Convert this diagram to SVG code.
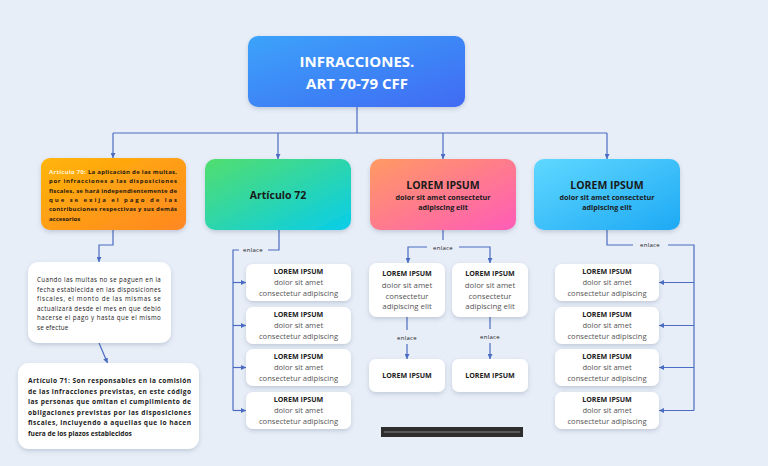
<svg xmlns="http://www.w3.org/2000/svg" width="768" height="466" viewBox="0 0 768 466">
<defs>
<linearGradient id="gTitle" x1="0" y1="0" x2="1" y2="1"><stop offset="0" stop-color="#3ba3fa"/><stop offset="1" stop-color="#406af3"/></linearGradient>
<linearGradient id="gOrange" x1="0" y1="0" x2="1" y2="1"><stop offset="0" stop-color="#ffb508"/><stop offset="1" stop-color="#ff8722"/></linearGradient>
<linearGradient id="gGreen" x1="0" y1="0" x2="1" y2="1"><stop offset="0" stop-color="#52de6e"/><stop offset="1" stop-color="#08cdea"/></linearGradient>
<linearGradient id="gPink" x1="0" y1="0" x2="1" y2="1"><stop offset="0" stop-color="#ff9a62"/><stop offset="1" stop-color="#ff5cb8"/></linearGradient>
<linearGradient id="gBlue" x1="0" y1="0" x2="1" y2="1"><stop offset="0" stop-color="#5fd8ff"/><stop offset="1" stop-color="#1ea9f4"/></linearGradient>
<filter id="sh" x="-10%" y="-10%" width="120%" height="130%"><feDropShadow dx="0" dy="2" stdDeviation="2" flood-color="#3a4a70" flood-opacity="0.22"/></filter>
<marker id="ar" viewBox="0 0 6 6" refX="6" refY="3" markerWidth="5" markerHeight="5" markerUnits="userSpaceOnUse" orient="auto"><path d="M0,0 L6,3 L0,6 Z" fill="#4a6cc2"/></marker>
</defs>
<style>
.ln{fill:none;stroke:#4a6cc2;stroke-width:1.2}
.wb{fill:#ffffff;filter:url(#sh)}
.cb{filter:url(#sh)}
text{font-family:"Open Sans","Liberation Sans",sans-serif}
.tt{font-size:15px;font-weight:700;fill:#ffffff;text-anchor:middle}
.hd{font-size:10.5px;font-weight:700;fill:#1a1a1a;text-anchor:middle}
.sb{font-size:7.2px;font-weight:700;fill:#1a1a1a;text-anchor:middle}
.ch{font-size:7.1px;font-weight:700;fill:#222222;text-anchor:middle}
.cr{font-size:7.6px;fill:#555555;text-anchor:middle}
.pr{font-size:7.8px;fill:#555555;text-anchor:middle}
.lb{font-size:6px;fill:#222222;text-anchor:middle;letter-spacing:0.3px}
.jb{font-size:6px;font-weight:700;fill:#1f1a10}
.jr{font-size:6.2px;fill:#1a1a1a;letter-spacing:0.2px}
.j3{font-size:6.6px;font-weight:700;fill:#1a1a1a}
</style>
<rect width="768" height="466" fill="#e8eef8"/>

<g id="connectors">
<path class="ln" d="M357,107 V133 M113,133 H607"/>
<path class="ln" d="M113,133 V158" marker-end="url(#ar)"/>
<path class="ln" d="M278,133 V159" marker-end="url(#ar)"/>
<path class="ln" d="M443,133 V159" marker-end="url(#ar)"/>
<path class="ln" d="M607,133 V159" marker-end="url(#ar)"/>
<path class="ln" d="M113,230 V245 H99 V262" marker-end="url(#ar)"/>
<path class="ln" d="M99,343 L107.5,363" marker-end="url(#ar)"/>
<path class="ln" d="M279,230 V250 H268"/>
<path class="ln" d="M239,250 H233 V410.5"/>
<path class="ln" d="M233,282.5 H246" marker-end="url(#ar)"/>
<path class="ln" d="M233,325.5 H246" marker-end="url(#ar)"/>
<path class="ln" d="M233,367.5 H246" marker-end="url(#ar)"/>
<path class="ln" d="M233,410.5 H246" marker-end="url(#ar)"/>
<path class="ln" d="M443,230 V240"/>
<path class="ln" d="M427,247 H408 V263" marker-end="url(#ar)"/>
<path class="ln" d="M459,247 H490 V263" marker-end="url(#ar)"/>
<path class="ln" d="M407,317 V330"/>
<path class="ln" d="M407,344 V359" marker-end="url(#ar)"/>
<path class="ln" d="M490,317 V329"/>
<path class="ln" d="M490,343 V359" marker-end="url(#ar)"/>
<path class="ln" d="M607,230 V245 H633"/>
<path class="ln" d="M668,245 H694 V410.5"/>
<path class="ln" d="M694,282.5 H659" marker-end="url(#ar)"/>
<path class="ln" d="M694,325.5 H659" marker-end="url(#ar)"/>
<path class="ln" d="M694,367.5 H659" marker-end="url(#ar)"/>
<path class="ln" d="M694,410.5 H659" marker-end="url(#ar)"/>
<text class="lb" x="253" y="252">enlace</text>
<text class="lb" x="443" y="249.5">enlace</text>
<text class="lb" x="407" y="339.5">enlace</text>
<text class="lb" x="490" y="338.5">enlace</text>
<text class="lb" x="650" y="247">enlace</text>
</g>

<g id="title">
<rect class="cb" x="248" y="36" width="217" height="71" rx="10" fill="url(#gTitle)"/>
<text class="tt" x="357" y="67">INFRACCIONES.</text>
<text class="tt" x="357" y="89">ART 70-79 CFF</text>
</g>

<g id="art70">
<rect class="cb" x="41" y="158" width="145" height="72" rx="9" fill="url(#gOrange)"/>
<text class="jb" x="49" y="174" textLength="128" lengthAdjust="spacing"><tspan fill="#fff4d8">Artículo 70:</tspan> La aplicación de las multas,</text>
<text class="jb" x="49" y="183.3" textLength="128" lengthAdjust="spacing">por infracciones a las disposiciones</text>
<text class="jb" x="49" y="192.6" textLength="128" lengthAdjust="spacing">fiscales, se hará independientemente de</text>
<text class="jb" x="49" y="201.9" textLength="128" lengthAdjust="spacing">que se exija el pago de las</text>
<text class="jb" x="49" y="211.2" textLength="128" lengthAdjust="spacing">contribuciones respectivas y sus demás</text>
<text class="jb" x="49" y="220.5">accesorios</text>
</g>

<g id="nota70">
<rect class="wb" x="28" y="262" width="143" height="81" rx="10"/>
<text class="jr" x="37" y="282" textLength="124" lengthAdjust="spacing">Cuando las multas no se paguen en la</text>
<text class="jr" x="37" y="291.5" textLength="124" lengthAdjust="spacing">fecha establecida en las disposiciones</text>
<text class="jr" x="37" y="301" textLength="124" lengthAdjust="spacing">fiscales, el monto de las mismas se</text>
<text class="jr" x="37" y="310.5" textLength="124" lengthAdjust="spacing">actualizará desde el mes en que debió</text>
<text class="jr" x="37" y="320" textLength="124" lengthAdjust="spacing">hacerse el pago y hasta que el mismo</text>
<text class="jr" x="37" y="329.5">se efectue</text>
</g>

<g id="art71">
<rect class="wb" x="18" y="363" width="181" height="86" rx="11"/>
<text class="j3" x="28" y="383" textLength="163" lengthAdjust="spacing">Artículo 71: Son responsables en la comisión</text>
<text class="j3" x="28" y="393.5" textLength="163" lengthAdjust="spacing">de las infracciones previstas, en este código</text>
<text class="j3" x="28" y="404" textLength="163" lengthAdjust="spacing">las personas que omitan el cumplimiento de</text>
<text class="j3" x="28" y="414.5" textLength="163" lengthAdjust="spacing">obligaciones previstas por las disposiciones</text>
<text class="j3" x="28" y="425" textLength="163" lengthAdjust="spacing">fiscales, incluyendo a aquellas que lo hacen</text>
<text class="j3" x="28" y="435.5">fuera de los plazos establecidos</text>
</g>

<g id="art72">
<rect class="cb" x="205" y="159" width="146" height="71" rx="10" fill="url(#gGreen)"/>
<text class="hd" x="278" y="199">Artículo 72</text>
</g>
<g id="g1"><rect class="wb" x="246" y="264" width="105" height="37" rx="7"/>
<text class="ch" x="298.5" y="274">LOREM IPSUM</text><text class="cr" x="298.5" y="285">dolor sit amet</text><text class="cr" x="298.5" y="296">consectetur adipiscing</text></g>
<g id="g2"><rect class="wb" x="246" y="307" width="105" height="37" rx="7"/>
<text class="ch" x="298.5" y="317">LOREM IPSUM</text><text class="cr" x="298.5" y="328">dolor sit amet</text><text class="cr" x="298.5" y="339">consectetur adipiscing</text></g>
<g id="g3"><rect class="wb" x="246" y="349" width="105" height="37" rx="7"/>
<text class="ch" x="298.5" y="359">LOREM IPSUM</text><text class="cr" x="298.5" y="370">dolor sit amet</text><text class="cr" x="298.5" y="381">consectetur adipiscing</text></g>
<g id="g4"><rect class="wb" x="246" y="392" width="105" height="37" rx="7"/>
<text class="ch" x="298.5" y="402">LOREM IPSUM</text><text class="cr" x="298.5" y="413">dolor sit amet</text><text class="cr" x="298.5" y="424">consectetur adipiscing</text></g>

<g id="pink">
<rect class="cb" x="370" y="159" width="146" height="71" rx="10" fill="url(#gPink)"/>
<text class="hd" x="443" y="188.5">LOREM IPSUM</text>
<text class="sb" x="443" y="199.5">dolor sit amet consectetur</text>
<text class="sb" x="443" y="209.5">adipiscing elit</text>
</g>
<g id="p1"><rect class="wb" x="369" y="263" width="76" height="54" rx="8"/>
<text class="ch" x="407" y="276">LOREM IPSUM</text><text class="pr" x="407" y="288">dolor sit amet</text><text class="pr" x="407" y="298.5">consectetur</text><text class="pr" x="407" y="309">adipiscing elit</text></g>
<g id="p2"><rect class="wb" x="452" y="263" width="76" height="54" rx="8"/>
<text class="ch" x="490" y="276">LOREM IPSUM</text><text class="pr" x="490" y="288">dolor sit amet</text><text class="pr" x="490" y="298.5">consectetur</text><text class="pr" x="490" y="309">adipiscing elit</text></g>
<g id="p3"><rect class="wb" x="369" y="359" width="76" height="33" rx="7"/>
<text class="ch" x="407" y="378">LOREM IPSUM</text></g>
<g id="p4"><rect class="wb" x="452" y="359" width="76" height="33" rx="7"/>
<text class="ch" x="490" y="378">LOREM IPSUM</text></g>

<g id="blue">
<rect class="cb" x="534" y="159" width="146" height="71" rx="10" fill="url(#gBlue)"/>
<text class="hd" x="607" y="188.5">LOREM IPSUM</text>
<text class="sb" x="607" y="199.5">dolor sit amet consectetur</text>
<text class="sb" x="607" y="209.5">adipiscing elit</text>
</g>
<g id="b1"><rect class="wb" x="555" y="264" width="104" height="37" rx="7"/>
<text class="ch" x="607" y="274">LOREM IPSUM</text><text class="cr" x="607" y="285">dolor sit amet</text><text class="cr" x="607" y="296">consectetur adipiscing</text></g>
<g id="b2"><rect class="wb" x="555" y="307" width="104" height="37" rx="7"/>
<text class="ch" x="607" y="317">LOREM IPSUM</text><text class="cr" x="607" y="328">dolor sit amet</text><text class="cr" x="607" y="339">consectetur adipiscing</text></g>
<g id="b3"><rect class="wb" x="555" y="349" width="104" height="37" rx="7"/>
<text class="ch" x="607" y="359">LOREM IPSUM</text><text class="cr" x="607" y="370">dolor sit amet</text><text class="cr" x="607" y="381">consectetur adipiscing</text></g>
<g id="b4"><rect class="wb" x="555" y="392" width="104" height="37" rx="7"/>
<text class="ch" x="607" y="402">LOREM IPSUM</text><text class="cr" x="607" y="413">dolor sit amet</text><text class="cr" x="607" y="424">consectetur adipiscing</text></g>

<g id="bar">
<rect x="381" y="427" width="142" height="10" fill="#2e2e2e"/>
<rect x="384" y="431" width="136" height="2" fill="#5a5a5a"/>
</g>
</svg>
